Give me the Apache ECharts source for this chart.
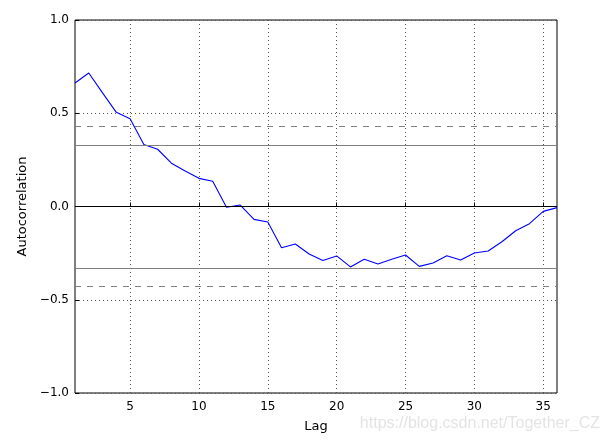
<!DOCTYPE html>
<html>
<head>
<meta charset="utf-8">
<script src="https://cdn.jsdelivr.net/npm/echarts@6/dist/echarts.min.js"></script>
<style>
html,body{margin:0;padding:0;background:#fff;}
#chart{width:608px;height:440px;}
</style>
</head>
<body>
<div id="chart"></div>
<script>
var lags = [1,2,3,4,5,6,7,8,9,10,11,12,13,14,15,16,17,18,19,20,21,22,23,24,25,26,27,28,29,30,31,32,33,34,35,36];
var acf = [0.662,0.716,0.609,0.505,0.471,0.333,0.307,0.232,0.190,0.151,0.135,-0.004,0.008,-0.069,-0.083,-0.221,-0.201,-0.255,-0.289,-0.265,-0.324,-0.283,-0.308,-0.283,-0.260,-0.321,-0.303,-0.264,-0.287,-0.249,-0.239,-0.189,-0.130,-0.092,-0.026,-0.006];
var xTicks = [5,10,15,20,25,30,35];
var yTicks = [-1.0,-0.5,0.0,0.5,1.0];
var z95 = 0.327;
var z99 = 0.429;

var chart = echarts.init(document.getElementById('chart'), null, {renderer:'canvas'});
var font = 'DejaVu Sans';
var data = lags.map(function(l,i){return [l, acf[i]];});
function fmtY(v){ var s = Math.abs(v).toFixed(1); return v < 0 ? '\u2212' + s : s; }

chart.setOption({
  animation:false,
  backgroundColor:'#fff',
  grid:{left:75, right:51, top:20, bottom:47, show:true, borderColor:'#000', borderWidth:1, backgroundColor:'transparent'},
  xAxis:{
    type:'value', min:1, max:36,
    name:'Lag', nameLocation:'middle', nameGap:27,
    nameTextStyle:{fontFamily:font, fontSize:13, color:'#000'},
    axisLine:{show:false},
    axisTick:{show:true, inside:true, length:4, lineStyle:{color:'#000'}, customValues:xTicks},
    axisLabel:{fontFamily:font, fontSize:12, color:'#000', margin:8, customValues:xTicks},
    splitLine:{show:true, lineStyle:{color:'#555', type:[1,3], width:1}}
  },
  yAxis:{
    type:'value', min:-1, max:1, interval:0.5,
    name:'Autocorrelation', nameLocation:'middle', nameGap:46,
    nameTextStyle:{fontFamily:font, fontSize:13, color:'#000'},
    axisLine:{show:false},
    axisTick:{show:true, inside:true, length:4, lineStyle:{color:'#000'}},
    axisLabel:{fontFamily:font, fontSize:12, color:'#000', margin:6, formatter:fmtY},
    splitLine:{show:true, lineStyle:{color:'#555', type:[1,3], width:1}}
  },
  graphic:[{
    type:'text', right:8, bottom:8,
    style:{text:'https://blog.csdn.net/Together_CZ', fill:'#e4e4e4', font:'16px "Liberation Sans", Arial, sans-serif'}
  }],
  series:[{
    type:'line', data:data, showSymbol:false, symbol:'none',
    lineStyle:{color:'#0000ff', width:1.1},
    markLine:{
      silent:true, symbol:'none', label:{show:false}, animation:false,
      data:[
        {yAxis:z99, lineStyle:{color:'#808080', type:[6,6], width:1}},
        {yAxis:z95, lineStyle:{color:'#808080', type:'solid', width:1}},
        {yAxis:0, lineStyle:{color:'#000', type:'solid', width:1}},
        {yAxis:-z95, lineStyle:{color:'#808080', type:'solid', width:1}},
        {yAxis:-z99, lineStyle:{color:'#808080', type:[6,6], width:1}}
      ]
    },
    z:3
  }]
});
</script>
</body>
</html>
